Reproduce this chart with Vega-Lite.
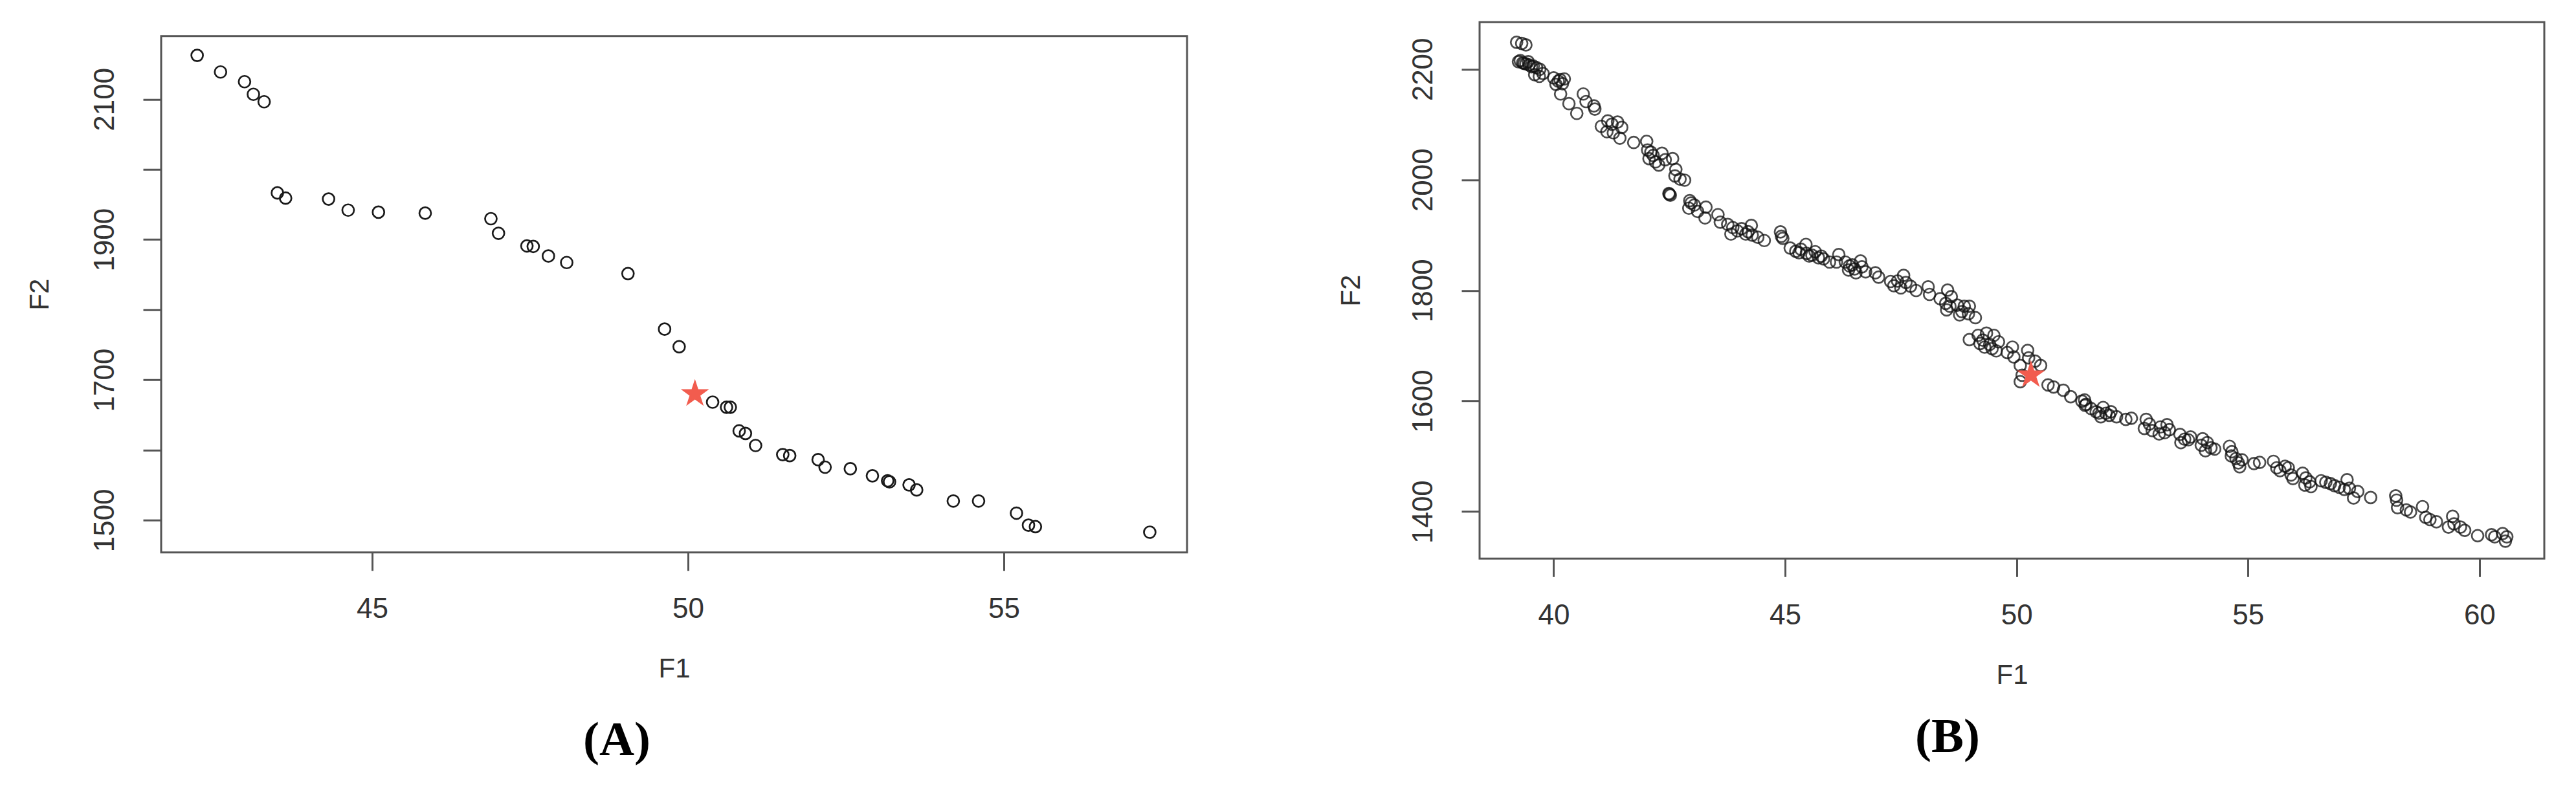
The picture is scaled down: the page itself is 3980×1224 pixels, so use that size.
{
  "$schema": "https://vega.github.io/schema/vega-lite/v6.json",
  "background": "white",
  "padding": {"left": 38, "top": 32, "right": 50, "bottom": 0},
  "datasets": {
    "a": [
      {"F1": 42.23, "F2": 2162.5}, {"F1": 42.60, "F2": 2138.8}, {"F1": 42.98, "F2": 2125}, {"F1": 43.12, "F2": 2107}, {"F1": 43.29, "F2": 2096.4},
      {"F1": 43.50, "F2": 1966.4}, {"F1": 43.63, "F2": 1959}, {"F1": 44.31, "F2": 1957.7}, {"F1": 44.62, "F2": 1941.9}, {"F1": 45.10, "F2": 1939},
      {"F1": 45.84, "F2": 1937.6}, {"F1": 46.88, "F2": 1929.7}, {"F1": 47.00, "F2": 1908.9}, {"F1": 47.45, "F2": 1890.9}, {"F1": 47.55, "F2": 1890.2},
      {"F1": 47.79, "F2": 1876.5}, {"F1": 48.08, "F2": 1867.2}, {"F1": 49.05, "F2": 1851.4}, {"F1": 49.63, "F2": 1772.3}, {"F1": 49.86, "F2": 1747.2},
      {"F1": 50.39, "F2": 1668.2}, {"F1": 50.61, "F2": 1661}, {"F1": 50.67, "F2": 1661}, {"F1": 50.81, "F2": 1627.2}, {"F1": 50.91, "F2": 1623.6},
      {"F1": 51.07, "F2": 1606.4}, {"F1": 51.50, "F2": 1593.4}, {"F1": 51.61, "F2": 1592}, {"F1": 52.06, "F2": 1586.2}, {"F1": 52.17, "F2": 1575.5},
      {"F1": 52.57, "F2": 1573.3}, {"F1": 52.92, "F2": 1563.2}, {"F1": 53.16, "F2": 1556.1}, {"F1": 53.19, "F2": 1554.6}, {"F1": 53.50, "F2": 1550.3},
      {"F1": 53.62, "F2": 1543.1}, {"F1": 54.20, "F2": 1527.3}, {"F1": 54.60, "F2": 1527.3}, {"F1": 55.20, "F2": 1510}, {"F1": 55.39, "F2": 1492.8},
      {"F1": 55.50, "F2": 1490.7}, {"F1": 57.31, "F2": 1482.8}
    ],
    "astar": [{"F1": 50.11, "F2": 1680}],
    "b": [
      {"F1": 39.20, "F2": 2248.6}, {"F1": 39.40, "F2": 2243.9}, {"F1": 39.31, "F2": 2246.6},
      {"F1": 39.24, "F2": 2213.5}, {"F1": 39.33, "F2": 2211.6}, {"F1": 39.40, "F2": 2209.6}, {"F1": 39.47, "F2": 2207.7}, {"F1": 39.56, "F2": 2205.7},
      {"F1": 39.63, "F2": 2202.6}, {"F1": 39.70, "F2": 2199.9}, {"F1": 39.59, "F2": 2190.1}, {"F1": 39.69, "F2": 2187}, {"F1": 39.77, "F2": 2192.1},
      {"F1": 39.28, "F2": 2215.5}, {"F1": 39.45, "F2": 2213.5}, {"F1": 39.36, "F2": 2210.5}, {"F1": 39.52, "F2": 2204.5},
      {"F1": 40.00, "F2": 2184.3}, {"F1": 40.10, "F2": 2178.4}, {"F1": 40.19, "F2": 2173.8}, {"F1": 40.05, "F2": 2172.6}, {"F1": 40.23, "F2": 2182.3}, {"F1": 40.14, "F2": 2181},
      {"F1": 40.15, "F2": 2155.1}, {"F1": 40.33, "F2": 2137.6}, {"F1": 40.50, "F2": 2120}, {"F1": 40.64, "F2": 2155.1}, {"F1": 40.70, "F2": 2141.4},
      {"F1": 40.87, "F2": 2133.6}, {"F1": 40.89, "F2": 2127.8},
      {"F1": 41.03, "F2": 2096.6}, {"F1": 41.17, "F2": 2106.4}, {"F1": 41.26, "F2": 2100.5}, {"F1": 41.38, "F2": 2104.4}, {"F1": 41.47, "F2": 2094.7},
      {"F1": 41.15, "F2": 2086.9}, {"F1": 41.29, "F2": 2084.9}, {"F1": 41.43, "F2": 2075.2},
      {"F1": 41.73, "F2": 2067.4}, {"F1": 42.01, "F2": 2069.4},
      {"F1": 42.03, "F2": 2053.8}, {"F1": 42.15, "F2": 2044}, {"F1": 42.20, "F2": 2032.3}, {"F1": 42.34, "F2": 2047.9}, {"F1": 42.41, "F2": 2036.2},
      {"F1": 42.06, "F2": 2038.2}, {"F1": 42.27, "F2": 2026.5}, {"F1": 42.10, "F2": 2050},
      {"F1": 42.57, "F2": 2038.2}, {"F1": 42.64, "F2": 2018.7}, {"F1": 42.62, "F2": 2007}, {"F1": 42.83, "F2": 1999.2}, {"F1": 42.73, "F2": 2001.2},
      {"F1": 42.50, "F2": 1973.9}, {"F1": 42.52, "F2": 1972}, {"F1": 42.49, "F2": 1975},
      {"F1": 42.94, "F2": 1962.2}, {"F1": 43.04, "F2": 1954.4}, {"F1": 42.92, "F2": 1948.6}, {"F1": 43.11, "F2": 1942.7}, {"F1": 42.97, "F2": 1958},
      {"F1": 43.29, "F2": 1950.5}, {"F1": 43.27, "F2": 1931}, {"F1": 43.55, "F2": 1936.9}, {"F1": 43.60, "F2": 1923.2},
      {"F1": 43.76, "F2": 1919.3}, {"F1": 43.87, "F2": 1913.5}, {"F1": 43.97, "F2": 1907.6}, {"F1": 44.06, "F2": 1911.6}, {"F1": 44.15, "F2": 1901.8},
      {"F1": 44.27, "F2": 1917.4}, {"F1": 44.29, "F2": 1899.9}, {"F1": 44.41, "F2": 1896}, {"F1": 44.55, "F2": 1890.1}, {"F1": 43.83, "F2": 1901.8},
      {"F1": 44.20, "F2": 1906}, {"F1": 44.90, "F2": 1905.7}, {"F1": 44.92, "F2": 1897.9},
      {"F1": 44.95, "F2": 1894}, {"F1": 45.11, "F2": 1876.5}, {"F1": 45.23, "F2": 1870.7}, {"F1": 45.34, "F2": 1874.5}, {"F1": 45.45, "F2": 1883.1},
      {"F1": 45.46, "F2": 1866.8}, {"F1": 45.58, "F2": 1863.6}, {"F1": 45.72, "F2": 1859}, {"F1": 45.83, "F2": 1857}, {"F1": 45.96, "F2": 1851.2},
      {"F1": 45.65, "F2": 1869.9}, {"F1": 45.30, "F2": 1868}, {"F1": 45.52, "F2": 1862}, {"F1": 45.78, "F2": 1862},
      {"F1": 46.16, "F2": 1864.8}, {"F1": 46.11, "F2": 1851.2},
      {"F1": 46.30, "F2": 1851.2}, {"F1": 46.39, "F2": 1844.2}, {"F1": 46.50, "F2": 1838.7}, {"F1": 46.63, "F2": 1853.1}, {"F1": 46.66, "F2": 1842.6},
      {"F1": 46.74, "F2": 1833.6}, {"F1": 46.53, "F2": 1831.7}, {"F1": 46.37, "F2": 1836.8}, {"F1": 46.45, "F2": 1846},
      {"F1": 47.02, "F2": 1823.9}, {"F1": 46.95, "F2": 1831.7},
      {"F1": 47.28, "F2": 1816.1}, {"F1": 47.43, "F2": 1816.9}, {"F1": 47.56, "F2": 1827}, {"F1": 47.61, "F2": 1814.2}, {"F1": 47.71, "F2": 1807.5},
      {"F1": 47.83, "F2": 1799.7}, {"F1": 47.50, "F2": 1804.4}, {"F1": 47.35, "F2": 1808.3},
      {"F1": 48.09, "F2": 1806.4}, {"F1": 48.12, "F2": 1792.7}, {"F1": 48.35, "F2": 1784.9},
      {"F1": 48.51, "F2": 1800.5}, {"F1": 48.59, "F2": 1788.8}, {"F1": 48.47, "F2": 1776.4}, {"F1": 48.56, "F2": 1771.3}, {"F1": 48.49, "F2": 1764.7},
      {"F1": 48.72, "F2": 1773.2}, {"F1": 48.82, "F2": 1761.6}, {"F1": 48.87, "F2": 1771.3}, {"F1": 48.98, "F2": 1771.3}, {"F1": 48.96, "F2": 1757.7},
      {"F1": 49.11, "F2": 1750.6}, {"F1": 48.77, "F2": 1755.7},
      {"F1": 48.98, "F2": 1710.9},
      {"F1": 49.17, "F2": 1718.7}, {"F1": 49.27, "F2": 1710.1}, {"F1": 49.35, "F2": 1722.6}, {"F1": 49.42, "F2": 1702.3}, {"F1": 49.51, "F2": 1718.7},
      {"F1": 49.47, "F2": 1694.5}, {"F1": 49.31, "F2": 1697.3}, {"F1": 49.21, "F2": 1703.9}, {"F1": 49.61, "F2": 1707}, {"F1": 49.56, "F2": 1690.6},
      {"F1": 49.80, "F2": 1687.5}, {"F1": 49.91, "F2": 1697.3}, {"F1": 49.94, "F2": 1679.7}, {"F1": 50.08, "F2": 1664.1}, {"F1": 50.24, "F2": 1691.4},
      {"F1": 50.26, "F2": 1677.8}, {"F1": 50.40, "F2": 1672}, {"F1": 50.52, "F2": 1664.1}, {"F1": 50.08, "F2": 1634.9}, {"F1": 50.12, "F2": 1646.6},
      {"F1": 50.68, "F2": 1629.1}, {"F1": 50.80, "F2": 1625.2}, {"F1": 51.01, "F2": 1619.3}, {"F1": 51.17, "F2": 1607.6}, {"F1": 51.41, "F2": 1599.8},
      {"F1": 51.48, "F2": 1592.1}, {"F1": 51.47, "F2": 1601.8}, {"F1": 51.50, "F2": 1594},
      {"F1": 51.61, "F2": 1586.2}, {"F1": 51.72, "F2": 1580.4}, {"F1": 51.87, "F2": 1588.2}, {"F1": 51.93, "F2": 1577.7}, {"F1": 52.04, "F2": 1580.4},
      {"F1": 52.16, "F2": 1571.4}, {"F1": 51.82, "F2": 1571.4}, {"F1": 51.78, "F2": 1578}, {"F1": 52.00, "F2": 1574},
      {"F1": 52.48, "F2": 1568.7}, {"F1": 52.36, "F2": 1566.7},
      {"F1": 52.80, "F2": 1566.7}, {"F1": 52.87, "F2": 1558.2}, {"F1": 52.76, "F2": 1550.4}, {"F1": 52.93, "F2": 1546.5}, {"F1": 53.11, "F2": 1553.1},
      {"F1": 53.20, "F2": 1542.6}, {"F1": 53.30, "F2": 1548}, {"F1": 53.08, "F2": 1540.3}, {"F1": 53.25, "F2": 1557},
      {"F1": 53.53, "F2": 1539.5}, {"F1": 53.63, "F2": 1530.9}, {"F1": 53.71, "F2": 1529.7}, {"F1": 53.55, "F2": 1524.7}, {"F1": 53.76, "F2": 1534.8},
      {"F1": 54.02, "F2": 1531.7}, {"F1": 54.12, "F2": 1524.7}, {"F1": 54.20, "F2": 1515.3}, {"F1": 54.28, "F2": 1513}, {"F1": 53.99, "F2": 1520},
      {"F1": 54.08, "F2": 1509.9},
      {"F1": 54.60, "F2": 1518}, {"F1": 54.65, "F2": 1508.3}, {"F1": 54.64, "F2": 1500.5}, {"F1": 54.74, "F2": 1495.8}, {"F1": 54.79, "F2": 1488.1},
      {"F1": 54.82, "F2": 1481}, {"F1": 54.87, "F2": 1493.5},
      {"F1": 55.13, "F2": 1486.9}, {"F1": 55.25, "F2": 1488.8},
      {"F1": 55.55, "F2": 1490.8}, {"F1": 55.62, "F2": 1479.1}, {"F1": 55.69, "F2": 1474}, {"F1": 55.80, "F2": 1481.8}, {"F1": 55.87, "F2": 1479.1},
      {"F1": 55.93, "F2": 1466.2}, {"F1": 55.97, "F2": 1459.6},
      {"F1": 56.18, "F2": 1469.3}, {"F1": 56.25, "F2": 1460.8}, {"F1": 56.33, "F2": 1453.8}, {"F1": 56.23, "F2": 1447.9}, {"F1": 56.36, "F2": 1445.2},
      {"F1": 56.58, "F2": 1455.7}, {"F1": 56.68, "F2": 1453}, {"F1": 56.78, "F2": 1450.6}, {"F1": 56.87, "F2": 1446.7}, {"F1": 56.97, "F2": 1444},
      {"F1": 57.14, "F2": 1457.7}, {"F1": 57.08, "F2": 1440.1}, {"F1": 57.19, "F2": 1442.1},
      {"F1": 57.28, "F2": 1424.5}, {"F1": 57.37, "F2": 1436.2}, {"F1": 57.65, "F2": 1425.5},
      {"F1": 58.19, "F2": 1428.4}, {"F1": 58.21, "F2": 1420.6}, {"F1": 58.23, "F2": 1407}, {"F1": 58.42, "F2": 1403}, {"F1": 58.51, "F2": 1399.2},
      {"F1": 58.77, "F2": 1408.9}, {"F1": 58.84, "F2": 1389.4}, {"F1": 58.93, "F2": 1385.5}, {"F1": 59.07, "F2": 1381.6}, {"F1": 59.33, "F2": 1371.9},
      {"F1": 59.42, "F2": 1391.4}, {"F1": 59.45, "F2": 1377.7}, {"F1": 59.59, "F2": 1371.9}, {"F1": 59.68, "F2": 1366}, {"F1": 59.96, "F2": 1356.3},
      {"F1": 60.26, "F2": 1358.2}, {"F1": 60.33, "F2": 1354.3}, {"F1": 60.50, "F2": 1360.2}, {"F1": 60.59, "F2": 1354.3}, {"F1": 60.56, "F2": 1346.5}
    ],
    "bstar": [{"F1": 50.31, "F2": 1647}]
  },
  "config": {
    "view": {"stroke": "#555", "strokeWidth": 3},
    "axis": {
      "grid": false, "domain": false, "tickColor": "#555", "tickWidth": 3, "tickSize": 28,
      "labelFont": "Liberation Sans", "labelFontSize": 44, "labelColor": "#333", "labelOverlap": false, "labelFlush": false,
      "titleFont": "Liberation Sans", "titleFontSize": 42, "titleFontWeight": "normal", "titleColor": "#333"
    },
    "title": {"font": "Liberation Serif", "fontSize": 75, "fontWeight": "bold", "color": "#000"}
  },
  "columns": 2,
  "align": "each",
  "center": true,
  "spacing": 228,
  "concat": [
    {
      "title": {"text": "(A)", "orient": "bottom", "anchor": "middle", "frame": "group", "offset": 52, "dx": 704},
      "vconcat": [
        {
          "width": 1585, "height": 798,
          "layer": [
            {
              "data": {"name": "a"},
              "mark": {"type": "point", "shape": "circle", "size": 324, "strokeWidth": 2.7, "color": "#1a1a1a", "filled": false, "opacity": 1},
              "encoding": {
                "x": {"field": "F1", "type": "quantitative", "scale": {"domain": [41.66, 57.9], "zero": false, "nice": false},
                      "axis": {"values": [45, 50, 55], "format": "d", "title": "F1", "labelPadding": 38, "titlePadding": 50}},
                "y": {"field": "F2", "type": "quantitative", "scale": {"domain": [1454, 2190], "zero": false, "nice": false},
                      "axis": {"values": [1500, 1600, 1700, 1800, 1900, 2000, 2100], "format": "d",
                               "labelExpr": "datum.value % 200 == 100 ? datum.label : ''",
                               "labelAngle": -90, "labelAlign": "center", "labelBaseline": "alphabetic",
                               "labelPadding": 46, "title": "F2", "titlePadding": 57}}
              }
            },
            {
              "data": {"name": "astar"},
              "mark": {"type": "point", "shape": "M0,-1L0.2245,-0.309L0.9511,-0.309L0.3633,0.118L0.5878,0.809L0,0.382L-0.5878,0.809L-0.3633,0.118L-0.9511,-0.309L-0.2245,-0.309Z", "size": 2116, "filled": true, "color": "#F25C4E", "opacity": 1, "strokeWidth": 0},
              "encoding": {
                "x": {"field": "F1", "type": "quantitative"},
                "y": {"field": "F2", "type": "quantitative"}
              }
            }
          ]
        }
      ]
    },
    {
      "title": {"text": "(B)", "subtitle": " ", "subtitleFontSize": 26, "subtitlePadding": 0, "orient": "bottom", "anchor": "middle", "frame": "group", "offset": 37, "dx": 723},
      "vconcat": [
        {
          "width": 1645, "height": 829,
          "layer": [
            {
              "data": {"name": "b"},
              "mark": {"type": "point", "shape": "circle", "size": 324, "strokeWidth": 2.7, "color": "#111", "filled": false, "opacity": 0.75},
              "encoding": {
                "x": {"field": "F1", "type": "quantitative", "scale": {"domain": [38.4, 61.4], "zero": false, "nice": false},
                      "axis": {"values": [40, 45, 50, 55, 60], "format": "d", "title": "F1", "labelPadding": 38, "titlePadding": 50}},
                "y": {"field": "F2", "type": "quantitative", "scale": {"domain": [1315, 2285], "zero": false, "nice": false},
                      "axis": {"values": [1400, 1600, 1800, 2000, 2200], "format": "d",
                               "labelAngle": -90, "labelAlign": "center", "labelBaseline": "alphabetic",
                               "labelPadding": 46, "title": "F2", "titlePadding": 68}}
              }
            },
            {
              "data": {"name": "bstar"},
              "mark": {"type": "point", "shape": "M0,-1L0.2245,-0.309L0.9511,-0.309L0.3633,0.118L0.5878,0.809L0,0.382L-0.5878,0.809L-0.3633,0.118L-0.9511,-0.309L-0.2245,-0.309Z", "size": 2116, "filled": true, "color": "#F25C4E", "opacity": 1, "strokeWidth": 0},
              "encoding": {
                "x": {"field": "F1", "type": "quantitative"},
                "y": {"field": "F2", "type": "quantitative"}
              }
            }
          ]
        }
      ]
    }
  ]
}
